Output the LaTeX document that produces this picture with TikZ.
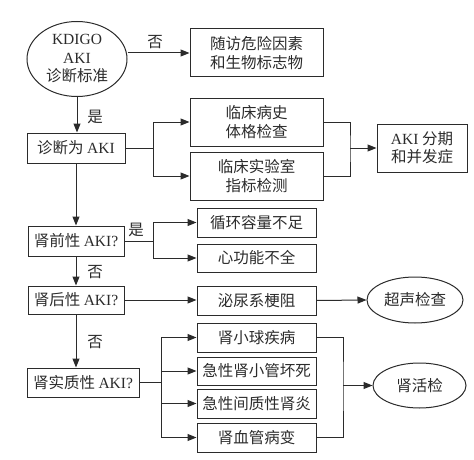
\documentclass[tikz,border=0pt]{standalone}
\usepackage{fontspec}
\setmainfont{Liberation Serif}
\newfontfamily\cjk{Noto Sans CJK SC}
\usetikzlibrary{arrows.meta,shapes.geometric}
\newcommand\lat[1]{{\rmfamily #1}}
\definecolor{ink}{HTML}{2B2B2B}
\tikzset{
  base/.style={draw=ink, line width=1pt, text=ink, inner sep=0pt, align=center,
    font=\cjk\fontsize{15.5}{18.5}\selectfont},
  box/.style={base, rectangle},
  oval/.style={base, ellipse},
  arr/.style={draw=ink, line width=1pt, -{Triangle[length=9pt,width=7pt]}},
  ln/.style={draw=ink, line width=1pt},
  lbl/.style={text=ink, inner sep=0pt, font=\cjk\fontsize{15.5}{18.5}\selectfont},
}
\begin{document}
\begin{tikzpicture}[x=1pt,y=-1pt]
\useasboundingbox (0,0) rectangle (474,460);
% nodes
\node[oval, minimum width=100pt, minimum height=75pt] (kdigo) at (77,59) {\lat{KDIGO}\\[0pt]\lat{AKI}\\诊断标准};
\node[box, minimum width=133pt, minimum height=48pt] (follow) at (256.5,53) {随访危险因素\\和生物标志物};
\node[box, minimum width=98pt, minimum height=30pt] (diag) at (76,148) {诊断为 \lat{AKI}};
\node[box, minimum width=133pt, minimum height=48pt] (hist) at (256.5,122) {临床病史\\体格检查};
\node[box, minimum width=133pt, minimum height=48pt] (lab) at (256.5,176) {临床实验室\\指标检测};
\node[box, minimum width=90pt, minimum height=48pt] (stage) at (422,148) {\lat{AKI} 分期\\和并发症};
\node[box, minimum width=96pt, minimum height=30pt] (pre) at (76,241) {肾前性 \lat{AKI?}};
\node[box, minimum width=119pt, minimum height=29pt] (vol) at (256.5,222.5) {循环容量不足};
\node[box, minimum width=119pt, minimum height=28pt] (heart) at (256.5,258) {心功能不全};
\node[box, minimum width=96pt, minimum height=28pt] (post) at (76,300) {肾后性 \lat{AKI?}};
\node[box, minimum width=119pt, minimum height=29pt] (obst) at (256.5,300.5) {泌尿系梗阻};
\node[oval, minimum width=96pt, minimum height=46pt] (us) at (415,300) {超声检查};
\node[box, minimum width=112pt, minimum height=29pt] (intr) at (83,382.5) {肾实质性 \lat{AKI?}};
\node[box, minimum width=119pt, minimum height=29pt] (glom) at (256.5,337.5) {肾小球疾病};
\node[box, minimum width=119pt, minimum height=28pt] (atn) at (256.5,371) {急性肾小管坏死};
\node[box, minimum width=119pt, minimum height=29pt] (ain) at (256.5,403.5) {急性间质性肾炎};
\node[box, minimum width=119pt, minimum height=29pt] (vasc) at (256.5,437.5) {肾血管病变};
\node[oval, minimum width=93pt, minimum height=45pt] (bio) at (419.5,385.5) {肾活检};
% labels
\node[lbl] (l1) at (155,42) {否};
\node[lbl] (l2) at (95,117) {是};
\node[lbl] (l3) at (136,230) {是};
\node[lbl] (l4) at (95,272) {否};
\node[lbl] (l5) at (95,342) {否};
% junctions
\coordinate (j1) at (153,148);
\coordinate (j2) at (350,148);
\coordinate (j3) at (153,241);
\coordinate (j4) at (161,382.5);
\coordinate (j5) at (343,385.5);
% connectors
\draw[arr] (kdigo.east |- follow.west) -- (follow.west);
\draw[arr] (kdigo.south) -- (kdigo.south |- diag.north);
\draw[ln] (diag.east) -- (j1);
\draw[ln] (j1 |- hist.west) -- (j1 |- lab.west);
\draw[arr] (j1 |- hist.west) -- (hist.west);
\draw[arr] (j1 |- lab.west) -- (lab.west);
\draw[ln] (hist.east) -| (j2) |- (lab.east);
\draw[arr] (j2) -- (stage.west);
\draw[arr] (diag.south -| pre.north) -- (pre.north);
\draw[ln] (pre.east) -- (j3);
\draw[arr] (j3) |- (vol.west);
\draw[arr] (j3) |- (heart.west);
\draw[arr] (pre.south) -- (post.north);
\draw[arr] (post.east) -- (obst.west |- post.east);
\draw[arr] (obst.east) -- (us.west);
\draw[arr] (post.south) -- (post.south |- intr.north);
\draw[ln] (intr.east) -- (j4);
\draw[arr] (j4) |- (glom.west);
\draw[arr] (j4) |- (atn.west);
\draw[arr] (j4) |- (ain.west);
\draw[arr] (j4) |- (vasc.west);
\draw[ln] (glom.east) -| (j5) |- (vasc.east);
\draw[arr] (j5) -- (bio.west);
\end{tikzpicture}
\end{document}
